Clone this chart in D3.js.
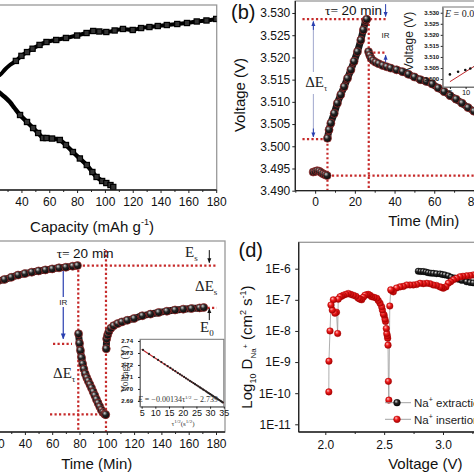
<!DOCTYPE html>
<html><head><meta charset="utf-8">
<script src="https://cdn.jsdelivr.net/npm/d3@7"></script>
<style>body{margin:0;background:#fff}svg{display:block}</style>
</head><body>
<svg id="c" width="474" height="474"></svg>
<script>
// ================= DATA =================
// (a) charge / discharge profile: capacity (mAh g-1) vs voltage (V)
const capCharge  = [0, 12, 20, 24.5, 28, 31.7, 36, 40, 44, 48, 53, 58, 65, 72, 80, 86.8, 91.6, 96, 101, 107, 113, 120, 126, 132, 138, 144.5, 152, 159, 166, 173, 180];
const voltCharge = [3.30, 3.33, 3.35, 3.368, 3.43, 3.486, 3.535, 3.595, 3.64, 3.68, 3.725, 3.76, 3.784, 3.808, 3.837, 3.867, 3.891, 3.885, 3.879, 3.897, 3.915, 3.903, 3.926, 3.938, 3.950, 3.962, 3.974, 3.986, 4.004, 4.016, 4.034];
const capDis  = [0, 10, 18, 24.5, 28, 31.7, 35, 39, 44, 48.4, 52, 55.5, 58, 62, 67.6, 72, 77, 82, 87, 91, 94, 98, 101, 104, 106];
const voltDis = [3.45, 3.33, 3.24, 3.153, 3.106, 3.046, 2.975, 2.892, 2.809, 2.737, 2.678, 2.618, 2.618, 2.612, 2.595, 2.535, 2.452, 2.375, 2.297, 2.214, 2.155, 2.107, 2.083, 2.059, 2.036];
const ticksA = [40, 60, 80, 100, 120, 140, 160, 180];
const minorA = [30, 50, 70, 90, 110, 130, 150, 170];

// (b) GITT step during charge: time (min) vs voltage (V)
const tPreB  = [-1, 0, 1, 2, 3, 4, 5, 6];
const vPreB  = [3.4942, 3.4943, 3.4945, 3.4944, 3.4941, 3.4938, 3.4936, 3.4934];
const tPulseB = [6.2, 7.0, 7.9, 9.6, 11.2, 12.9, 14.6, 16.3, 18.0, 19.6, 21.3, 23.0, 24.3, 25.5, 26.0];
const vPulseB = [3.5018, 3.5037, 3.5052, 3.5074, 3.5097, 3.5116, 3.5134, 3.5153, 3.5172, 3.5191, 3.5213, 3.5239, 3.5262, 3.5283, 3.5286];
const tRelaxB = [26.9, 27.5, 28.2, 29.2, 30.5, 32, 34, 36, 38, 41, 44, 47, 50, 53, 56, 59, 62, 65, 68, 71, 74, 77, 80, 84, 88, 92];
const vRelaxB = [3.5213, 3.5205, 3.5198, 3.5193, 3.5189, 3.5186, 3.5182, 3.5179, 3.5176, 3.5172, 3.5168, 3.5162, 3.5156, 3.5150, 3.5146, 3.5140, 3.5131, 3.5123, 3.5114, 3.5106, 3.5097, 3.5087, 3.5079, 3.5072, 3.5066, 3.5060];
const ticksBx = [0, 20, 40, 60, 80];
const minorBx = [-10, 10, 30, 50, 70, 90];
const ticksBy = [3.490, 3.495, 3.500, 3.505, 3.510, 3.515, 3.520, 3.525, 3.530];
// (b) inset: tau^1/2 vs voltage
const insBx = [5.0, 7.6, 9.9, 11.5, 13.0, 14.4, 15.8, 17.0, 18.2, 19.3];
const insBv = [3.5021, 3.5033, 3.5041, 3.5048, 3.5056, 3.5066, 3.5075, 3.5085, 3.5095, 3.5104];
const fitBx = [5, 35];
const fitBv = [3.4988, 3.5258];
const ticksBiY = [3.500, 3.505, 3.510, 3.515, 3.520, 3.525, 3.530];
const ticksBiX = [5, 10];

// (c) GITT step during discharge: time (min) vs voltage (V)
const tChC = [0, 5, 10, 15, 20, 25, 30, 35, 40, 45, 50, 55, 60, 65, 70, 75, 78.5];
const vChC = [2.7535, 2.7548, 2.7560, 2.7568, 2.7576, 2.7584, 2.7594, 2.7605, 2.7612, 2.7619, 2.7625, 2.7630, 2.7635, 2.7640, 2.7643, 2.7648, 2.7651];
const tPulseC = [79.3, 80, 80.7, 81.5, 82.3, 83.2, 84.2, 85.3, 86.4, 87.6, 88.8, 90, 91.2, 92.4, 93.6, 94.8, 96, 97.2, 98.4, 99.2];
const vPulseC = [2.7321, 2.7275, 2.7240, 2.7205, 2.7175, 2.7150, 2.7127, 2.7108, 2.7092, 2.7075, 2.7058, 2.7040, 2.7022, 2.7003, 2.6985, 2.6968, 2.6952, 2.6940, 2.6932, 2.6929];
const tRelaxC = [99.6, 99.9, 100.6, 101.5, 103, 105, 108, 111, 115, 120, 126, 132, 138, 144, 150, 156, 162, 168, 171];
const vRelaxC = [2.7248, 2.7296, 2.7315, 2.7332, 2.7348, 2.7360, 2.7370, 2.7378, 2.7386, 2.7395, 2.7408, 2.7416, 2.7424, 2.7430, 2.7436, 2.7440, 2.7443, 2.7446, 2.7448];
const ticksCx = [20, 40, 60, 80, 100, 120, 140, 160, 180];
const minorCx = [10, 30, 50, 70, 90, 110, 130, 150, 170];
// (c) inset
const insCx = [5.5, 7.7, 9.5, 11.0, 12.2, 13.4, 14.5, 15.5, 16.4, 17.3, 18.2, 19.0, 19.7, 20.5, 21.2, 21.9, 22.6, 23.2, 23.9, 24.5, 25.1, 25.7, 26.3, 26.8, 27.4, 27.9, 28.5, 29.0, 29.5, 30.0, 30.5, 31.0, 31.5, 32.0, 32.4, 32.9, 33.3, 33.8, 34.2, 34.6];
const insCv = [2.7325, 2.7292, 2.7265, 2.7242, 2.7224, 2.7206, 2.7190, 2.7175, 2.7161, 2.7148, 2.7134, 2.7122, 2.7112, 2.7100, 2.7089, 2.7079, 2.7068, 2.7059, 2.7049, 2.7040, 2.7031, 2.7022, 2.7013, 2.7005, 2.6996, 2.6989, 2.6980, 2.6972, 2.6965, 2.6957, 2.6950, 2.6942, 2.6935, 2.6927, 2.6921, 2.6914, 2.6908, 2.6900, 2.6894, 2.6888];
const fitCx = [5, 35];
const fitCv = [2.7332, 2.6882];
const ticksCiY = [2.69, 2.70, 2.71, 2.72, 2.73, 2.74];
const ticksCiX = [5, 10, 15, 20, 25, 30, 35];

// (d) diffusion coefficient vs voltage
const vIns = [3.30, 3.257, 3.23, 3.201, 3.17, 3.144, 3.115, 3.088, 3.065, 3.045, 3.025, 3.003, 2.99, 2.975, 2.945, 2.918, 2.89, 2.862, 2.833, 2.805, 2.776, 2.748, 2.72, 2.692, 2.663, 2.635, 2.605, 2.578, 2.562, 2.556, 2.548, 2.540, 2.536, 2.533, 2.530, 2.527, 2.522, 2.518, 2.512, 2.507, 2.500, 2.493, 2.485, 2.479, 2.465, 2.45, 2.437, 2.415, 2.394, 2.38, 2.365, 2.35, 2.337, 2.323, 2.309, 2.295, 2.280, 2.26, 2.238, 2.215, 2.195, 2.175, 2.153, 2.138, 2.125, 2.11, 2.105, 2.095, 2.082, 2.068, 2.059, 2.048, 2.040, 2.031, 2.030];
const dIns = [6.0e-7, 6.3e-7, 6.0e-7, 5.9e-7, 5.7e-7, 5.5e-7, 4.9e-7, 4.4e-7, 3.8e-7, 3.4e-7, 2.6e-7, 2.35e-7, 2.5e-7, 2.6e-7, 2.9e-7, 3.0e-7, 3.3e-7, 3.4e-7, 3.3e-7, 3.4e-7, 3.1e-7, 3.0e-7, 3.0e-7, 3.0e-7, 2.7e-7, 2.6e-7, 2.4e-7, 1.8e-7, 2.0e-7, 2.1e-7, 6.3e-8, 6.0e-11, 2.4e-10, 3.5e-9, 5.8e-9, 7.0e-9, 8.3e-9, 1.2e-8, 2.0e-8, 2.4e-8, 3.2e-8, 3.5e-8, 4.7e-8, 6.0e-8, 7.8e-8, 9.5e-8, 1.12e-7, 1.2e-7, 1.26e-7, 1.4e-7, 1.5e-7, 1.45e-7, 1.4e-7, 1.2e-7, 1.0e-7, 1.05e-7, 1.12e-7, 1.3e-7, 1.4e-7, 1.5e-7, 1.6e-7, 1.5e-7, 1.4e-7, 1.3e-7, 1.26e-7, 1.05e-7, 8.3e-9, 4.0e-8, 3.7e-8, 1.0e-7, 4.7e-8, 6.8e-8, 1.0e-8, 1.07e-9, 1.1e-10];
const vExt = [2.79, 2.812, 2.833, 2.855, 2.875, 2.897, 2.918, 2.945, 2.975, 2.995, 3.017, 3.045, 3.07, 3.10, 3.13, 3.16, 3.20, 3.23, 3.257, 3.30];
const dExt = [8.3e-7, 8.1e-7, 8.1e-7, 7.8e-7, 7.4e-7, 7.2e-7, 7.1e-7, 6.9e-7, 6.8e-7, 6.5e-7, 6.3e-7, 5.9e-7, 5.3e-7, 5.0e-7, 4.6e-7, 4.2e-7, 3.8e-7, 3.6e-7, 3.5e-7, 3.4e-7];
const ticksDx = [2.0, 2.5, 3.0, 3.5];
const minorDx = [2.25, 2.75, 3.25];
const ticksDy = [1e-11, 1e-10, 1e-9, 1e-8, 1e-7, 1e-6];
const legendD = ["extraction", "insertion"];

// ================= DRAWING =================
const SANS = "'Liberation Sans', Arial, sans-serif";
const SERIF = "'Liberation Serif', 'Times New Roman', serif";
const DOT = "#c62a2a", BLUE = "#2a3fb0", FRAME = "#999";
const svg = d3.select("#c");
const defs = svg.append("defs");

function grad(id, c0, c1, c2) {
  const g = defs.append("radialGradient").attr("id", id)
    .attr("cx", "45%").attr("cy", "40%").attr("r", "60%").attr("fx", "35%").attr("fy", "30%");
  g.append("stop").attr("offset", "0%").attr("stop-color", c0);
  g.append("stop").attr("offset", "45%").attr("stop-color", c1);
  g.append("stop").attr("offset", "100%").attr("stop-color", c2);
}
grad("gRed", "#ffc0c0", "#ee1c1c", "#a00000");
grad("gBlk", "#d8d8d8", "#262626", "#050505");
function clip(id, x0, y0, x1, y1) {
  defs.append("clipPath").attr("id", id).append("rect")
    .attr("x", x0).attr("y", y0).attr("width", x1 - x0).attr("height", y1 - y0);
}
function arrowMarker(id, color) {
  defs.append("marker").attr("id", id).attr("viewBox", "0 0 10 10")
    .attr("refX", 9).attr("refY", 5).attr("markerWidth", 5).attr("markerHeight", 5)
    .attr("orient", "auto-start-reverse")
    .append("path").attr("d", "M0,1L10,5L0,9z").attr("fill", color);
}
arrowMarker("aBlue", BLUE);
arrowMarker("aBlk", "#111");

function styleAxis(g, fs, fam, weight) {
  g.attr("font-size", fs).attr("font-family", fam || SANS);
  if (weight) g.attr("font-weight", weight);
  g.select(".domain").attr("stroke", "#222").attr("stroke-width", 1.3);
  g.selectAll(".tick line").attr("stroke", "#222").attr("stroke-width", 1);
  g.selectAll(".tick text").attr("fill", "#111");
}
function styleMinor(g) {
  g.select(".domain").remove();
  g.selectAll(".tick text").remove();
  g.selectAll(".tick line").attr("stroke", "#222").attr("stroke-width", 1);
}
function dotted(g, x1, y1, x2, y2) {
  g.append("line").attr("x1", x1).attr("y1", y1).attr("x2", x2).attr("y2", y2)
    .attr("stroke", DOT).attr("stroke-width", 2.2).attr("stroke-dasharray", "2.2,2.3");
}
function arrow(g, x1, y1, x2, y2, color, mid, both, w) {
  const l = g.append("line").attr("x1", x1).attr("y1", y1).attr("x2", x2).attr("y2", y2)
    .attr("stroke", color).attr("stroke-width", w || 1).attr("marker-end", `url(#${mid})`);
  if (both) l.attr("marker-start", `url(#${mid})`);
}
function zipPts(xs, ys) { return xs.map((x, i) => [x, ys[i]]); }
function sphereSeries(g, pts, xs, ys, r, band) {
  g.append("path").datum(pts)
    .attr("d", d3.line().x(d => xs(d[0])).y(d => ys(d[1])).curve(d3.curveMonotoneX))
    .attr("fill", "none").attr("stroke", "#1a1a1a").attr("stroke-width", band)
    .attr("stroke-linecap", "round").attr("stroke-linejoin", "round");
  g.selectAll(null).data(pts).enter().append("circle")
    .attr("cx", d => xs(d[0])).attr("cy", d => ys(d[1])).attr("r", r)
    .attr("fill", "url(#gBlk)").attr("stroke", "#a83030").attr("stroke-width", 0.7);
}

// ---------- Panel (a) ----------
{
  const g = svg.append("g");
  const x = d3.scaleLinear().domain([0, 180]).range([-34.2, 216.2]);
  const y = d3.scaleLinear().domain([2.0, 4.2]).range([190, 5]);
  clip("clipA", -40, 5, 216.7, 190);
  g.append("rect").attr("x", -40).attr("y", 5).attr("width", 256.7).attr("height", 185)
    .attr("fill", "none").attr("stroke", FRAME).attr("stroke-width", 1.3);
  const pg = g.append("g").attr("clip-path", "url(#clipA)");
  const ch = zipPts(capCharge, voltCharge), dc = zipPts(capDis, voltDis);
  pg.append("path").datum(ch).attr("d", d3.line().x(d => x(d[0])).y(d => y(d[1])).curve(d3.curveMonotoneX))
    .attr("fill", "none").attr("stroke", "#000").attr("stroke-width", 4);
  pg.append("path").datum(dc).attr("d", d3.line().x(d => x(d[0])).y(d => y(d[1])).curve(d3.curveCatmullRom))
    .attr("fill", "none").attr("stroke", "#000").attr("stroke-width", 4.4);
  [ch, dc].forEach(pts => {
    pg.selectAll(null).data(pts.filter(d => d[0] > 35)).enter().append("rect")
      .attr("x", d => x(d[0]) - 2.6).attr("y", d => y(d[1]) - 2.6).attr("width", 5.2).attr("height", 5.2)
      .attr("fill", "#333").attr("stroke", "#000").attr("stroke-width", 1.2);
  });
  const ax = g.append("g").attr("transform", "translate(0,190)")
    .call(d3.axisBottom(x).tickValues(ticksA).tickSize(3).tickSizeOuter(0).tickPadding(4));
  styleAxis(ax, 12);
  ax.select(".domain").attr("d", "M-40,0H216.7");
  const mx = g.append("g").attr("transform", "translate(0,190)")
    .call(d3.axisBottom(x).tickValues(minorA).tickSize(2));
  styleMinor(mx);
  const t = g.append("text").attr("x", 92).attr("y", 232).attr("text-anchor", "middle")
    .attr("font-family", SANS).attr("font-size", 15).attr("fill", "#111");
  t.append("tspan").text("Capacity (mAh g");
  t.append("tspan").attr("font-size", 9).attr("dy", -7).text("-1");
  t.append("tspan").attr("dy", 7).text(")");
}

// ---------- Panel (b) ----------
{
  const g = svg.append("g");
  const x = d3.scaleLinear().domain([-10, 100]).range([295.3, 513.65]);
  const y = d3.scaleLinear().domain([3.490, 3.5327]).range([190.7, 1]);
  clip("clipB", 295.3, 1, 474, 190.7);
  g.append("rect").attr("x", 295.3).attr("y", 1).attr("width", 200).attr("height", 189.7)
    .attr("fill", "none").attr("stroke", FRAME).attr("stroke-width", 1.3);
  const pg = g.append("g").attr("clip-path", "url(#clipB)");
  dotted(pg, x(-6.4), y(3.5286), x(35.5), y(3.5286));
  dotted(pg, x(-6.4), y(3.5016), x(6.2), y(3.5016));
  dotted(pg, x(6.2), y(3.4934), 480, y(3.4934));
  dotted(pg, x(27), y(3.5211), x(35.5), y(3.5211));
  dotted(pg, x(6.2), y(3.5016), x(6.2), 190.7);
  dotted(pg, x(27), y(3.5286), x(27), 190.7);
  pg.append("line").attr("x1", x(-0.9)).attr("x2", x(-0.9)).attr("y1", y(3.5280)).attr("y2", y(3.5022))
    .attr("stroke", "#8890c0").attr("stroke-width", 0.8);
  arrow(pg, x(-0.9), y(3.5262), x(-0.9), y(3.5281), BLUE, "aBlue");
  arrow(pg, x(-0.9), y(3.5040), x(-0.9), y(3.5021), BLUE, "aBlue");
  pg.append("rect").attr("x", x(-4.8)).attr("y", 72).attr("width", 19).attr("height", 22).attr("fill", "#fff");
  const de = pg.append("text").attr("x", x(-5)).attr("y", 87).attr("font-family", SERIF).attr("font-size", 15).attr("fill", "#222");
  de.append("tspan").text("ΔE");
  de.append("tspan").attr("font-size", 8).attr("dy", 4).text("τ");
  arrow(pg, x(35.5), y(3.5320), x(35.5), y(3.5292), BLUE, "aBlue");
  arrow(pg, x(35.5), y(3.5178), x(35.5), y(3.5205), BLUE, "aBlue");
  pg.append("text").attr("x", x(35.5)).attr("y", 38).attr("text-anchor", "middle")
    .attr("font-family", SANS).attr("font-size", 8).attr("fill", "#222").text("IR");
  sphereSeries(pg, zipPts(tPreB, vPreB), x, y, 4, 6);
  sphereSeries(pg, zipPts(tPulseB, vPulseB), x, y, 4, 7);
  sphereSeries(pg, zipPts(tRelaxB, vRelaxB), x, y, 4, 7);
  const tl = g.append("text").attr("x", 325).attr("y", 15).attr("font-size", 13.5).attr("fill", "#111");
  tl.append("tspan").attr("font-family", SERIF).text("τ= ");
  tl.append("tspan").attr("font-family", SANS).text("20 min");
  // inset
  const ix = d3.scaleLinear().domain([2.7, 20]).range([442.7, 497]);
  const iy = d3.scaleLinear().domain([3.4964, 3.5326]).range([87, 7]);
  clip("clipBi", 442.7, 7, 474, 87);
  g.append("rect").attr("x", 442.7).attr("y", 7).attr("width", 60).attr("height", 80)
    .attr("fill", "#fff").attr("stroke", "#777").attr("stroke-width", 1);
  const ig = g.append("g").attr("clip-path", "url(#clipBi)");
  ig.append("path").datum(zipPts(fitBx, fitBv))
    .attr("d", d3.line().x(d => ix(d[0])).y(d => iy(d[1])))
    .attr("stroke", "#c0282c").attr("stroke-width", 1).attr("fill", "none");
  ig.selectAll(null).data(zipPts(insBx, insBv)).enter().append("circle")
    .attr("cx", d => ix(d[0])).attr("cy", d => iy(d[1])).attr("r", 1.3).attr("fill", "#111");
  const eq = ig.append("text").attr("x", 445).attr("y", 17).attr("font-family", SERIF)
    .attr("font-size", 10).attr("fill", "#222");
  eq.append("tspan").attr("font-style", "italic").text("E");
  eq.append("tspan").text(" = 0.00085τ");
  eq.append("tspan").attr("font-size", 6).attr("dy", -4).text("1/2");
  eq.append("tspan").attr("dy", 4).text(" + 3.497");
  const iax = g.append("g").attr("transform", "translate(442.7,0)")
    .call(d3.axisLeft(iy).tickValues(ticksBiY).tickFormat(d3.format(".3f")).tickSize(2).tickSizeOuter(0).tickPadding(1.5));
  styleAxis(iax, 6, SANS, "bold");
  iax.select(".domain").attr("stroke", "#777").attr("stroke-width", 1);
  const ibx = g.append("g").attr("transform", "translate(0,87)")
    .call(d3.axisBottom(ix).tickValues(ticksBiX).tickSize(2).tickSizeOuter(0).tickPadding(1));
  styleAxis(ibx, 7.5);
  ibx.select(".domain").attr("stroke", "#777").attr("stroke-width", 1);
  g.append("text").attr("transform", "translate(413,41.5) rotate(-90)").attr("text-anchor", "middle")
    .attr("font-family", SANS).attr("font-size", 12).attr("fill", "#222").text("Voltage (V)");
  // axes
  const ax = g.append("g").attr("transform", "translate(0,190.7)")
    .call(d3.axisBottom(x).tickValues(ticksBx).tickSize(3).tickSizeOuter(0).tickPadding(4));
  styleAxis(ax, 12);
  ax.select(".domain").attr("d", "M295.3,0H480");
  styleMinor(g.append("g").attr("transform", "translate(0,190.7)")
    .call(d3.axisBottom(x).tickValues(minorBx).tickSize(2)));
  const ay = g.append("g").attr("transform", "translate(295.3,0)")
    .call(d3.axisLeft(y).tickValues(ticksBy).tickFormat(d3.format(".3f")).tickSize(3).tickSizeOuter(0).tickPadding(2));
  styleAxis(ay, 12);
  ay.select(".domain").attr("d", "M0,1V190.7");
  g.append("text").attr("x", 423.7).attr("y", 226).attr("text-anchor", "middle")
    .attr("font-family", SANS).attr("font-size", 15).attr("fill", "#111").text("Time (Min)");
  g.append("text").attr("transform", "translate(245,95) rotate(-90)").attr("text-anchor", "middle")
    .attr("font-family", SANS).attr("font-size", 15).attr("fill", "#111").text("Voltage (V)");
  g.append("text").attr("x", 231).attr("y", 19).attr("font-family", SANS).attr("font-size", 20)
    .attr("fill", "#111").text("(b)");
}

// ---------- Panel (c) ----------
{
  const g = svg.append("g");
  const x = d3.scaleLinear().domain([0, 180]).range([-29.7, 216]);
  const y = d3.scaleLinear().domain([2.6845, 2.777]).range([432, 241]);
  clip("clipC", -40, 241, 225, 432);
  g.append("rect").attr("x", -40).attr("y", 241).attr("width", 265).attr("height", 191)
    .attr("fill", "none").attr("stroke", FRAME).attr("stroke-width", 1.3);
  const pg = g.append("g").attr("clip-path", "url(#clipC)");
  dotted(pg, x(79.1), y(2.7651), x(180.5), y(2.7651));
  dotted(pg, x(79.1), y(2.7651), x(79.1), 432);
  dotted(pg, x(99.4), y(2.7725), x(99.4), 432);
  dotted(pg, x(60.6), y(2.7272), x(74.5), y(2.7272));
  dotted(pg, x(58.4), y(2.6930), x(96.3), y(2.6930));
  dotted(pg, x(170.5), y(2.7446), x(180.5), y(2.7446));
  arrow(pg, x(68.1), y(2.7651), x(68.1), y(2.7296), BLUE, "aBlue", false, 1.2);
  pg.append("rect").attr("x", x(68.1) - 5.5).attr("y", 297).attr("width", 11).attr("height", 10).attr("fill", "#fff");
  pg.append("text").attr("x", x(68.1)).attr("y", 305).attr("text-anchor", "middle")
    .attr("font-family", SANS).attr("font-size", 8).attr("fill", "#222").text("IR");
  arrow(pg, x(175.1), y(2.7726), x(175.1), y(2.7665), "#111", "aBlk");
  arrow(pg, x(175.1), y(2.7387), x(175.1), y(2.7443), "#111", "aBlk");
  sphereSeries(pg, zipPts(tChC, vChC), x, y, 4, 7);
  sphereSeries(pg, zipPts(tPulseC, vPulseC), x, y, 4, 7);
  sphereSeries(pg, zipPts(tRelaxC, vRelaxC), x, y, 4, 7);
  const tl = g.append("text").attr("x", 56.7).attr("y", 258).attr("font-size", 13.5).attr("fill", "#111");
  tl.append("tspan").attr("font-family", SERIF).text("τ= ");
  tl.append("tspan").attr("font-family", SANS).text("20 min");
  function sub(xx, yy, main, s) {
    const t = g.append("text").attr("x", xx).attr("y", yy).attr("font-family", SERIF)
      .attr("font-size", 15).attr("fill", "#222");
    t.append("tspan").text(main);
    t.append("tspan").attr("font-size", 9).attr("dy", 4).text(s);
  }
  sub(185, 257, "E", "s");
  sub(195, 291, "ΔE", "s");
  sub(200, 332, "E", "0");
  sub(53, 378, "ΔE", "τ");
  // inset
  const ix = d3.scaleLinear().domain([4.4, 35]).range([140, 223.8]);
  const iy = d3.scaleLinear().domain([2.6852, 2.7414]).range([406.7, 339.3]);
  g.append("rect").attr("x", 140).attr("y", 339.3).attr("width", 83.8).attr("height", 67.4)
    .attr("fill", "#fff").attr("stroke", "#777").attr("stroke-width", 1);
  g.append("path").datum(zipPts(fitCx, fitCv))
    .attr("d", d3.line().x(d => ix(d[0])).y(d => iy(d[1])))
    .attr("stroke", "#c0282c").attr("stroke-width", 1.2).attr("fill", "none");
  g.selectAll(null).data(zipPts(insCx, insCv)).enter().append("circle")
    .attr("cx", d => ix(d[0])).attr("cy", d => iy(d[1])).attr("r", 1.1).attr("fill", "#222");
  const iay = g.append("g").attr("transform", "translate(140,0)")
    .call(d3.axisLeft(iy).tickValues(ticksCiY).tickFormat(d3.format(".2f")).tickSize(2).tickSizeOuter(0).tickPadding(5));
  styleAxis(iay, 6, SANS, "bold");
  iay.select(".domain").attr("stroke", "#777").attr("stroke-width", 1);
  const iax = g.append("g").attr("transform", "translate(0,406.7)")
    .call(d3.axisBottom(ix).tickValues(ticksCiX).tickSize(2).tickSizeOuter(0).tickPadding(0.5));
  styleAxis(iax, 9);
  iax.select(".domain").attr("stroke", "#777").attr("stroke-width", 1);
  g.append("text").attr("transform", "translate(128,369) rotate(-90)").attr("text-anchor", "middle")
    .attr("font-family", SERIF).attr("font-size", 10).attr("fill", "#333").text("Voltage (V)");
  const xl = g.append("text").attr("x", 183).attr("y", 426).attr("text-anchor", "middle")
    .attr("font-family", SERIF).attr("font-size", 7).attr("fill", "#333");
  xl.append("tspan").text("τ");
  xl.append("tspan").attr("font-size", 5).attr("dy", -3).text("1/2");
  xl.append("tspan").attr("dy", 3).text("(s");
  xl.append("tspan").attr("font-size", 5).attr("dy", -3).text("1/2");
  xl.append("tspan").attr("dy", 3).text(")");
  const eq = g.append("text").attr("x", 178).attr("y", 401.5).attr("text-anchor", "middle")
    .attr("font-family", SERIF).attr("font-size", 8).attr("fill", "#333");
  eq.append("tspan").attr("font-style", "italic").text("E");
  eq.append("tspan").text(" = −0.00134τ");
  eq.append("tspan").attr("font-size", 5).attr("dy", -3).text("1/2");
  eq.append("tspan").attr("dy", 3).text(" − 2.739");
  const ax = g.append("g").attr("transform", "translate(0,432)")
    .call(d3.axisBottom(x).tickValues(ticksCx).tickSize(3).tickSizeOuter(0).tickPadding(4));
  styleAxis(ax, 12);
  ax.select(".domain").attr("d", "M-40,0H225");
  styleMinor(g.append("g").attr("transform", "translate(0,432)")
    .call(d3.axisBottom(x).tickValues(minorCx).tickSize(2)));
  g.append("text").attr("x", 96.7).attr("y", 469).attr("text-anchor", "middle")
    .attr("font-family", SANS).attr("font-size", 15).attr("fill", "#111").text("Time (Min)");
}

// ---------- Panel (d) ----------
{
  const g = svg.append("g");
  const x = d3.scaleLinear().domain([1.774, 3.6]).range([298.7, 513.6]);
  const y = d3.scaleLog().domain([Math.pow(10, -11.247), Math.pow(10, -5.152)]).range([432, 242.3]);
  clip("clipD", 298.7, 242.3, 474, 432);
  g.append("rect").attr("x", 298.7).attr("y", 242.3).attr("width", 200).attr("height", 189.7)
    .attr("fill", "none").attr("stroke", FRAME).attr("stroke-width", 1.3);
  const pg = g.append("g").attr("clip-path", "url(#clipD)");
  const line = d3.line().x(d => x(d[0])).y(d => y(d[1]));
  const ins = zipPts(vIns, dIns), ext = zipPts(vExt, dExt);
  pg.append("path").datum(ins).attr("d", line).attr("fill", "none").attr("stroke", "#999").attr("stroke-width", 0.8);
  pg.append("path").datum(ext).attr("d", line).attr("fill", "none").attr("stroke", "#999").attr("stroke-width", 0.8);
  pg.selectAll(null).data(ext).enter().append("circle")
    .attr("cx", d => x(d[0])).attr("cy", d => y(d[1])).attr("r", 3.2)
    .attr("fill", "url(#gBlk)").attr("stroke", "#000").attr("stroke-width", 0.4);
  pg.selectAll(null).data(ins).enter().append("circle")
    .attr("cx", d => x(d[0])).attr("cy", d => y(d[1])).attr("r", 3.3)
    .attr("fill", "url(#gRed)").attr("stroke", "#b00000").attr("stroke-width", 0.4);
  const lg = g.append("g").attr("clip-path", "url(#clipD)");
  legendD.forEach((name, i) => {
    const yy = 402.7 + i * 16.6;
    lg.append("line").attr("x1", 385).attr("x2", 411).attr("y1", yy).attr("y2", yy)
      .attr("stroke", "#999").attr("stroke-width", 0.9);
    lg.append("circle").attr("cx", 397).attr("cy", yy).attr("r", 3.4)
      .attr("fill", i === 0 ? "url(#gBlk)" : "url(#gRed)").attr("stroke", i === 0 ? "#000" : "#b00000").attr("stroke-width", 0.4);
    const t = lg.append("text").attr("x", 414).attr("y", yy + 4.3).attr("font-family", SANS)
      .attr("font-size", 11.5).attr("fill", "#222");
    t.append("tspan").text("Na");
    t.append("tspan").attr("font-size", 7).attr("dy", -5).text("+");
    t.append("tspan").attr("dy", 5).text(" " + name);
  });
  const ax = g.append("g").attr("transform", "translate(0,432)")
    .call(d3.axisBottom(x).tickValues(ticksDx).tickFormat(d3.format(".1f")).tickSize(3).tickSizeOuter(0).tickPadding(5));
  styleAxis(ax, 12);
  ax.select(".domain").attr("d", "M298.7,0H480");
  styleMinor(g.append("g").attr("transform", "translate(0,432)")
    .call(d3.axisBottom(x).tickValues(minorDx).tickSize(2)));
  const ay = g.append("g").attr("transform", "translate(298.7,0)")
    .call(d3.axisLeft(y).tickValues(ticksDy).tickFormat(d => "1E" + Math.round(Math.log10(d))).tickSize(3.5).tickSizeOuter(0).tickPadding(4.5));
  styleAxis(ay, 12);
  ay.select(".domain").attr("d", "M0,242.3V432");
  g.append("text").attr("x", 425.3).attr("y", 469).attr("text-anchor", "middle")
    .attr("font-family", SANS).attr("font-size", 15).attr("fill", "#111").text("Voltage (V)");
  const t = g.append("text").attr("transform", "translate(252,347) rotate(-90)").attr("text-anchor", "middle")
    .attr("font-family", SANS).attr("font-size", 15).attr("fill", "#111");
  t.append("tspan").text("Log");
  t.append("tspan").attr("font-size", 9).attr("dy", 4).text("10");
  t.append("tspan").attr("dy", -4).text(" D");
  t.append("tspan").attr("font-size", 8).attr("dy", 4).text("Na");
  t.append("tspan").attr("font-size", 7).attr("dy", -8).text("+");
  t.append("tspan").attr("dy", 4).text(" (cm");
  t.append("tspan").attr("font-size", 9).attr("dy", -6).text("2");
  t.append("tspan").attr("dy", 6).text(" s");
  t.append("tspan").attr("font-size", 9).attr("dy", -6).text("-1");
  t.append("tspan").attr("dy", 6).text(")");
  g.append("text").attr("x", 238.5).attr("y", 257).attr("font-family", SANS).attr("font-size", 20)
    .attr("fill", "#111").text("(d)");
}
</script>
</body></html>
